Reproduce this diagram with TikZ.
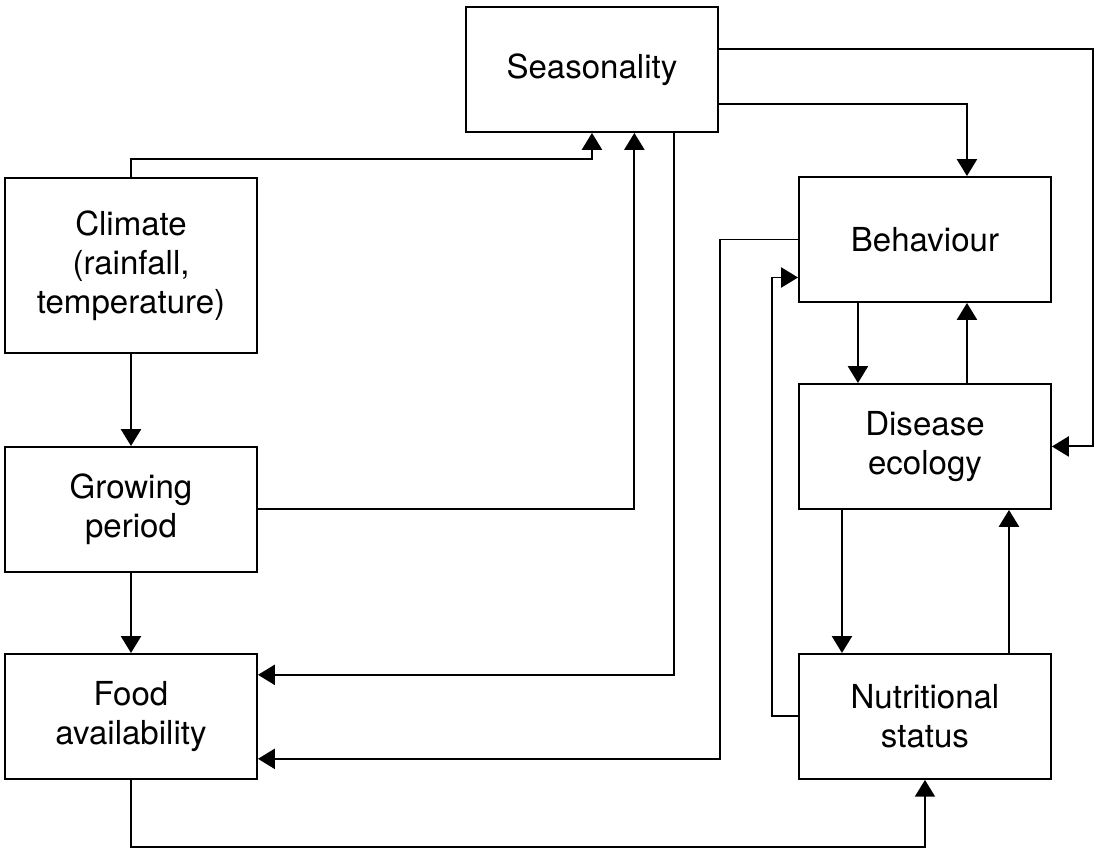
\documentclass[tikz,border=0pt]{standalone}
\usepackage{fontspec}
\setmainfont{TeX Gyre Heros}
\usepackage{tikz}
\usetikzlibrary{positioning,arrows.meta}
\tikzset{
  block/.style={draw, line width=1.4pt, fill=white, minimum width=6.3cm, minimum height=3.125cm, align=center, font=\fontsize{23.5}{27.7}\selectfont},
  blockTall/.style={block, minimum height=4.375cm},
  arrow/.style={-{Triangle[length=0.42cm, width=0.5cm]}, line width=1.4pt}
}

\begin{document}
\begin{tikzpicture}[node distance=2.0cm]
  \useasboundingbox (-3.275,6.6375) rectangle (24.2,-14.6875);
  \node[blockTall] (climate) at (0,0) {Climate\\(rainfall,\\temperature)};
  \node[block, below=2.3cm of climate] (growing) {Growing\\period};
  \node[block, below=2.0cm of growing] (food) {Food\\availability};
  \node[block, right=13.5cm of food] (nutri) {Nutritional\\status};
  \node[block, above=3.575cm of nutri] (disease) {Disease\\ecology};
  \node[block, above=2.0cm of disease] (behaviour) {Behaviour};
  \node[block, right=5.175cm of climate, yshift=4.9cm] (season) {Seasonality};
  % left column
  \draw[arrow] (climate.south) -- (growing.north);
  \draw[arrow] (growing.south) -- (food.north);
  \draw[arrow] (climate.north) -- ++(0,0.45) -| (season.south);
  \draw[arrow] (growing.east) -| ([xshift=1.06cm]season.south);
  \draw[arrow] ([xshift=2.06cm]season.south) |- ([yshift=1.04cm]food.east);
  % seasonality to the right column
  \draw[arrow] ([yshift=0.51cm]season.east) -- ++(9.35,0) |- (disease.east);
  \draw[arrow] ([yshift=-0.86cm]season.east) -| ([xshift=1.05cm]behaviour.north);
  % right column
  \draw[arrow] (behaviour.west) -- ++(-1.95,0) |- ([yshift=-1.06cm]food.east);
  \draw[arrow] (nutri.west) -- ++(-0.65,0) |- ([yshift=-0.95cm]behaviour.west);
  \draw[arrow] ([xshift=-1.675cm]behaviour.south) -- ([xshift=-1.675cm]disease.north);
  \draw[arrow] ([xshift=1.05cm]disease.north) -- ([xshift=1.05cm]behaviour.south);
  \draw[arrow] ([xshift=-2.075cm]disease.south) -- ([xshift=-2.075cm]nutri.north);
  \draw[arrow] ([xshift=2.1cm]nutri.north) -- ([xshift=2.1cm]disease.south);
  \draw[arrow] (food.south) -- ++(0,-1.675) -| (nutri.south);
\end{tikzpicture}
\end{document}
